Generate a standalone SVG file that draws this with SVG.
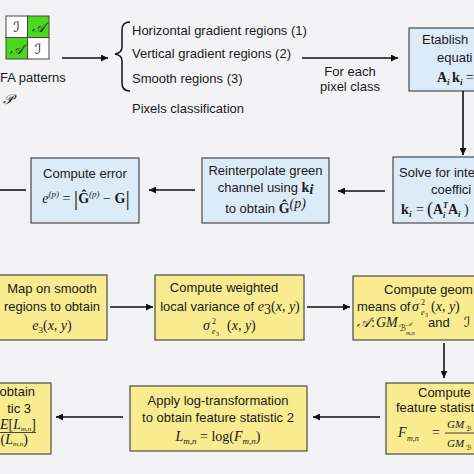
<svg xmlns="http://www.w3.org/2000/svg" width="474" height="474" viewBox="0 0 474 474">
<defs>
<marker id="ah" viewBox="0 0 10 10" refX="10" refY="5" markerWidth="8" markerHeight="7" orient="auto" markerUnits="userSpaceOnUse">
<path d="M0,0 L10,5 L0,10 z" fill="#111"/>
</marker>
<style>
.t{font-family:"Liberation Sans",Arial,sans-serif;font-size:13px;fill:#1a1a1a}
.m{font-family:"Liberation Serif","DejaVu Serif","DejaVu Sans","Noto Sans",serif;font-size:14px;font-style:italic;fill:#1a1a1a}
.r{font-style:normal}
.bf{font-weight:bold;font-style:normal}
.bi{font-weight:bold;font-style:italic}
.blue{fill:#dbebf8;stroke:#4a4a4a;stroke-width:1.2}
.yel{fill:#f9eb8f;stroke:#4a4a4a;stroke-width:1.2}
.c{fill:none;stroke:#111;stroke-width:1.6}
.a{marker-end:url(#ah)}
.cell{stroke:#444;stroke-width:1}
</style>
</defs>
<rect x="0" y="0" width="474" height="474" fill="#f3f3f5"/>

<g id="cfa">
<rect class="cell" x="6" y="16" width="21.5" height="21.5" fill="#ffffff"/>
<rect class="cell" x="27.5" y="16" width="21.5" height="21.5" fill="#4cd81e"/>
<rect class="cell" x="6" y="37.5" width="21.5" height="21.5" fill="#4cd81e"/>
<rect class="cell" x="27.5" y="37.5" width="21.5" height="21.5" fill="#ffffff"/>
<text class="m" x="16.7" y="32" text-anchor="middle">ℐ</text>
<text class="m" x="38.2" y="32" text-anchor="middle">𝒜</text>
<text class="m" x="16.7" y="53.5" text-anchor="middle">𝒜</text>
<text class="m" x="38.2" y="53.5" text-anchor="middle">ℐ</text>
<text class="t" x="0" y="82">FA patterns</text>
<text class="m" x="3" y="104">𝒫</text>
</g>

<g id="classification">
<path d="M130,22 Q122,22 122,30 L122,47 Q122,53 115,54 Q122,55 122,61 L122,83 Q122,91 130,91" fill="none" stroke="#111" stroke-width="1.5"/>
<text class="t" x="132" y="35" font-size="12">Horizontal gradient regions (1)</text>
<text class="t" x="132" y="58" font-size="12">Vertical gradient regions (2)</text>
<text class="t" x="132" y="83" font-size="12">Smooth regions (3)</text>
<text class="t" x="132" y="113">Pixels classification</text>
</g>

<g id="for-each">
<text class="t" x="350" y="76" font-size="12.5" text-anchor="middle">For each</text>
<text class="t" x="350" y="91" font-size="12.5" text-anchor="middle">pixel class</text>
</g>

<g id="establish">
<rect class="blue" x="409" y="28" width="80" height="63"/>
<text class="t" x="422" y="44">Etablish</text>
<text class="t" x="437" y="62">equati</text>
<text class="m" y="82"><tspan class="bf" x="437">A</tspan><tspan class="bi" x="447" y="85" font-size="9">i</tspan><tspan class="bf" x="452" y="82">k</tspan><tspan class="bi" x="460" y="85" font-size="9">i</tspan><tspan class="r" x="466" y="82">=</tspan></text>
</g>

<g id="solve">
<rect class="blue" x="393" y="157" width="100" height="66"/>
<text class="t" x="399" y="177">Solve for inte</text>
<text class="t" x="431" y="194">coeffici</text>
<text class="m" y="214"><tspan class="bf" x="401">k</tspan><tspan class="bi" x="409" y="217" font-size="9">i</tspan><tspan class="r" x="416" y="214">=</tspan><tspan class="r" x="427" y="215" font-size="18">(</tspan><tspan class="bf" x="433" y="214">A</tspan><tspan class="bi" x="443" y="208" font-size="8">T</tspan><tspan class="bi" x="443" y="218" font-size="8">i</tspan><tspan class="bf" x="448" y="214">A</tspan><tspan class="bi" x="458" y="217" font-size="9">i</tspan><tspan class="r" x="464" y="214">)</tspan></text>
</g>

<g id="reinterpolate">
<rect class="blue" x="202" y="158" width="127" height="65"/>
<text class="t" x="265.5" y="175" text-anchor="middle">Reinterpolate green</text>
<text class="t" x="265.5" y="192" text-anchor="middle">channel using <tspan class="m bf">k</tspan><tspan class="m bi" font-size="8" dy="2">i</tspan></text>
<text class="t" x="265.5" y="213" text-anchor="middle">to obtain <tspan class="m bf">Ĝ</tspan><tspan class="m" font-size="8" dy="-5">(p)</tspan></text>
</g>

<g id="error">
<rect class="blue" x="31" y="158" width="108" height="65"/>
<text class="t" x="85" y="178" text-anchor="middle">Compute error</text>
<text class="m" x="86" y="203" text-anchor="middle">e<tspan font-size="9" dy="-6">(p)</tspan><tspan class="r" dy="6"> = </tspan><tspan class="r" font-size="22" dy="2">|</tspan><tspan class="bf" dy="-2">Ĝ</tspan><tspan font-size="9" dy="-6">(p)</tspan><tspan class="r" dy="6"> − </tspan><tspan class="bf">G</tspan><tspan class="r" font-size="22" dy="2">|</tspan></text>
</g>

<g id="map-smooth">
<rect class="yel" x="-2" y="275" width="109" height="65"/>
<text class="t" x="52" y="293" text-anchor="middle">Map on smooth</text>
<text class="t" x="52" y="311" text-anchor="middle">regions to obtain</text>
<text class="m" x="52" y="330" text-anchor="middle">e<tspan class="r" font-size="9" dy="3">3</tspan><tspan class="r" dy="-3">(</tspan>x, y<tspan class="r">)</tspan></text>
</g>

<g id="weighted-variance">
<rect class="yel" x="155" y="275" width="149" height="65"/>
<text class="t" x="224" y="292" text-anchor="middle">Compute weighted</text>
<text class="t" x="230" y="311" text-anchor="middle">local variance of <tspan class="m">e</tspan><tspan class="m r" font-size="9" dy="3">3</tspan><tspan class="m r" dy="-3">(</tspan><tspan class="m">x, y</tspan><tspan class="m r">)</tspan></text>
<text class="m" y="330"><tspan x="203">σ</tspan><tspan class="r" x="212" y="324" font-size="8">2</tspan><tspan x="212" y="334" font-size="8">e</tspan><tspan class="r" x="216" y="336" font-size="6">3</tspan><tspan class="r" x="227" y="330">(</tspan>x, y<tspan class="r">)</tspan></text>
</g>

<g id="geometric-means">
<rect class="yel" x="353" y="276" width="130" height="64"/>
<text class="t" x="384" y="294">Compute geom</text>
<text class="t" x="357" y="311" font-size="12">means of</text>
<text class="m" y="311"><tspan x="412">σ</tspan><tspan class="r" x="421" y="305" font-size="8">2</tspan><tspan x="421" y="315" font-size="8">e</tspan><tspan class="r" x="425" y="317" font-size="6">3</tspan><tspan class="r" x="431" y="311">(</tspan>x, y<tspan class="r">)</tspan></text>
<text class="m" y="327"><tspan x="357">𝒜</tspan><tspan class="r" x="371">:</tspan><tspan x="376">GM</tspan><tspan x="399" y="331" font-size="9">ℬ</tspan><tspan x="406" y="326" font-size="6">𝒜</tspan><tspan x="406" y="335" font-size="6">m,n</tspan><tspan class="t r" x="428" y="327">and</tspan><tspan x="464" y="327">ℐ</tspan></text>
</g>

<g id="feature-1">
<rect class="yel" x="386" y="383" width="100" height="71"/>
<text class="t" x="418" y="397">Compute</text>
<text class="t" x="396" y="412">feature statist</text>
<text class="m" y="437"><tspan x="398">F</tspan><tspan x="407" y="441" font-size="8">m,n</tspan><tspan class="r" x="432" y="437">=</tspan><tspan x="447" y="428" font-size="11">GM</tspan><tspan x="466" y="431" font-size="7">ℬ</tspan><tspan x="447" y="447" font-size="11">GM</tspan><tspan x="466" y="450" font-size="7">ℬ</tspan></text>
<path d="M445,433 H474" stroke="#1a1a1a" stroke-width="0.8"/>
</g>

<g id="log-transform">
<rect class="yel" x="130" y="386" width="177" height="65"/>
<text class="t" x="218" y="405" text-anchor="middle">Apply log-transformation</text>
<text class="t" x="218" y="422" text-anchor="middle">to obtain feature statistic 2</text>
<text class="m" x="218" y="441" text-anchor="middle">L<tspan font-size="9" dy="3">m,n</tspan><tspan class="r" dy="-3"> = log(</tspan>F<tspan font-size="9" dy="3">m,n</tspan><tspan class="r" dy="-3">)</tspan></text>
</g>

<g id="feature-3">
<rect class="yel" x="-50" y="383" width="101" height="71"/>
<text class="t" x="35" y="396" text-anchor="end">obtain</text>
<text class="t" x="31" y="413" text-anchor="end">tic 3</text>
<text class="m" x="36" y="429" text-anchor="end" font-size="11">E<tspan class="r">[</tspan>L<tspan font-size="7" dy="2">m,n</tspan><tspan class="r" dy="-2">]</tspan></text>
<path d="M0,432.5 H36" stroke="#1a1a1a" stroke-width="0.8"/>
<text class="m" x="28" y="444" text-anchor="end" font-size="11"><tspan class="r">(</tspan>L<tspan font-size="7" dy="2">m,n</tspan><tspan class="r" dy="-2">)</tspan></text>
</g>

<g id="connectors">
<path class="c a" d="M62,58 H108"/>
<path class="c a" d="M302,58 H398"/>
<path class="c a" d="M463,91 V155"/>
<path class="c a" d="M385,191 H338"/>
<path class="c a" d="M195,190 H149"/>
<path class="c" d="M26,190 H0"/>
<path class="c a" d="M110,307 H153"/>
<path class="c a" d="M307,307 H350"/>
<path class="c a" d="M444,343 V378"/>
<path class="c a" d="M380,417 H313"/>
<path class="c a" d="M123,417 H56"/>
</g>
</svg>
